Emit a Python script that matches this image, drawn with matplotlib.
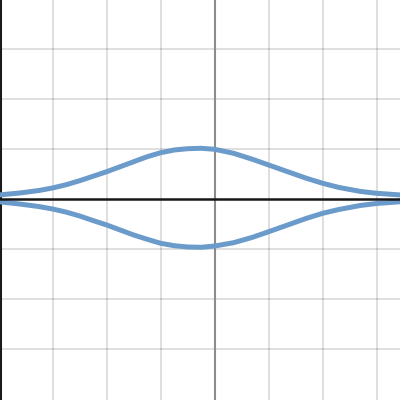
import numpy as np
import matplotlib
matplotlib.use("Agg")
import matplotlib.pyplot as plt

# curve samples (grid units)
x_pts = [-4.0, -3.6, -3.25, -3.0, -2.75, -2.5, -2.25, -2.0, -1.75, -1.5, -1.25,
         -1.0, -0.75, -0.5, -0.25, 0.0, 0.35, 0.7, 1.0, 1.35, 1.7, 2.0, 2.3,
         2.7, 3.0, 3.45]
upper = [0.084, 0.125, 0.175, 0.225, 0.29, 0.37, 0.46, 0.55, 0.65, 0.75, 0.85,
         0.93, 0.984, 1.01, 1.018, 0.998, 0.918, 0.798, 0.684, 0.55, 0.418,
         0.318, 0.235, 0.155, 0.118, 0.084]
lower = [-0.05, -0.098, -0.148, -0.196, -0.258, -0.336, -0.428, -0.516, -0.616,
         -0.716, -0.802, -0.882, -0.93, -0.956, -0.962, -0.936, -0.87, -0.762,
         -0.65, -0.516, -0.382, -0.282, -0.205, -0.125, -0.085, -0.05]

x_grid = [-3, -2, -1, 1, 2, 3]
y_grid = [-3, -2, -1, 1, 2, 3]

fig = plt.figure(figsize=(4, 4), dpi=100)
ax = fig.add_axes([0, 0, 1, 1])
ax.set_xlim(-3.976, 3.431)
ax.set_ylim(-4.016, 3.984)
ax.set_xticks([])
ax.set_yticks([])
for s in ["top", "right", "bottom"]:
    ax.spines[s].set_visible(False)
ax.spines["left"].set_color("#1a1a1a")
ax.spines["left"].set_linewidth(2.2)

for gx in x_grid:
    ax.axvline(gx, color="black", alpha=0.13, lw=1.4, zorder=1)
for gy in y_grid:
    ax.axhline(gy, color="black", alpha=0.13, lw=1.4, zorder=1)

ax.axvline(0, color="#8c8c8c", lw=1.5, zorder=2)

curve_color = "#6b9bca"
ax.plot(x_pts, upper, color=curve_color, lw=3.6, solid_joinstyle="round",
        solid_capstyle="round", zorder=3)
ax.plot(x_pts, lower, color=curve_color, lw=3.6, solid_joinstyle="round",
        solid_capstyle="round", zorder=3)

ax.axhline(0, color="#161616", lw=1.8, zorder=4)

fig.savefig("out.png", dpi=100)
